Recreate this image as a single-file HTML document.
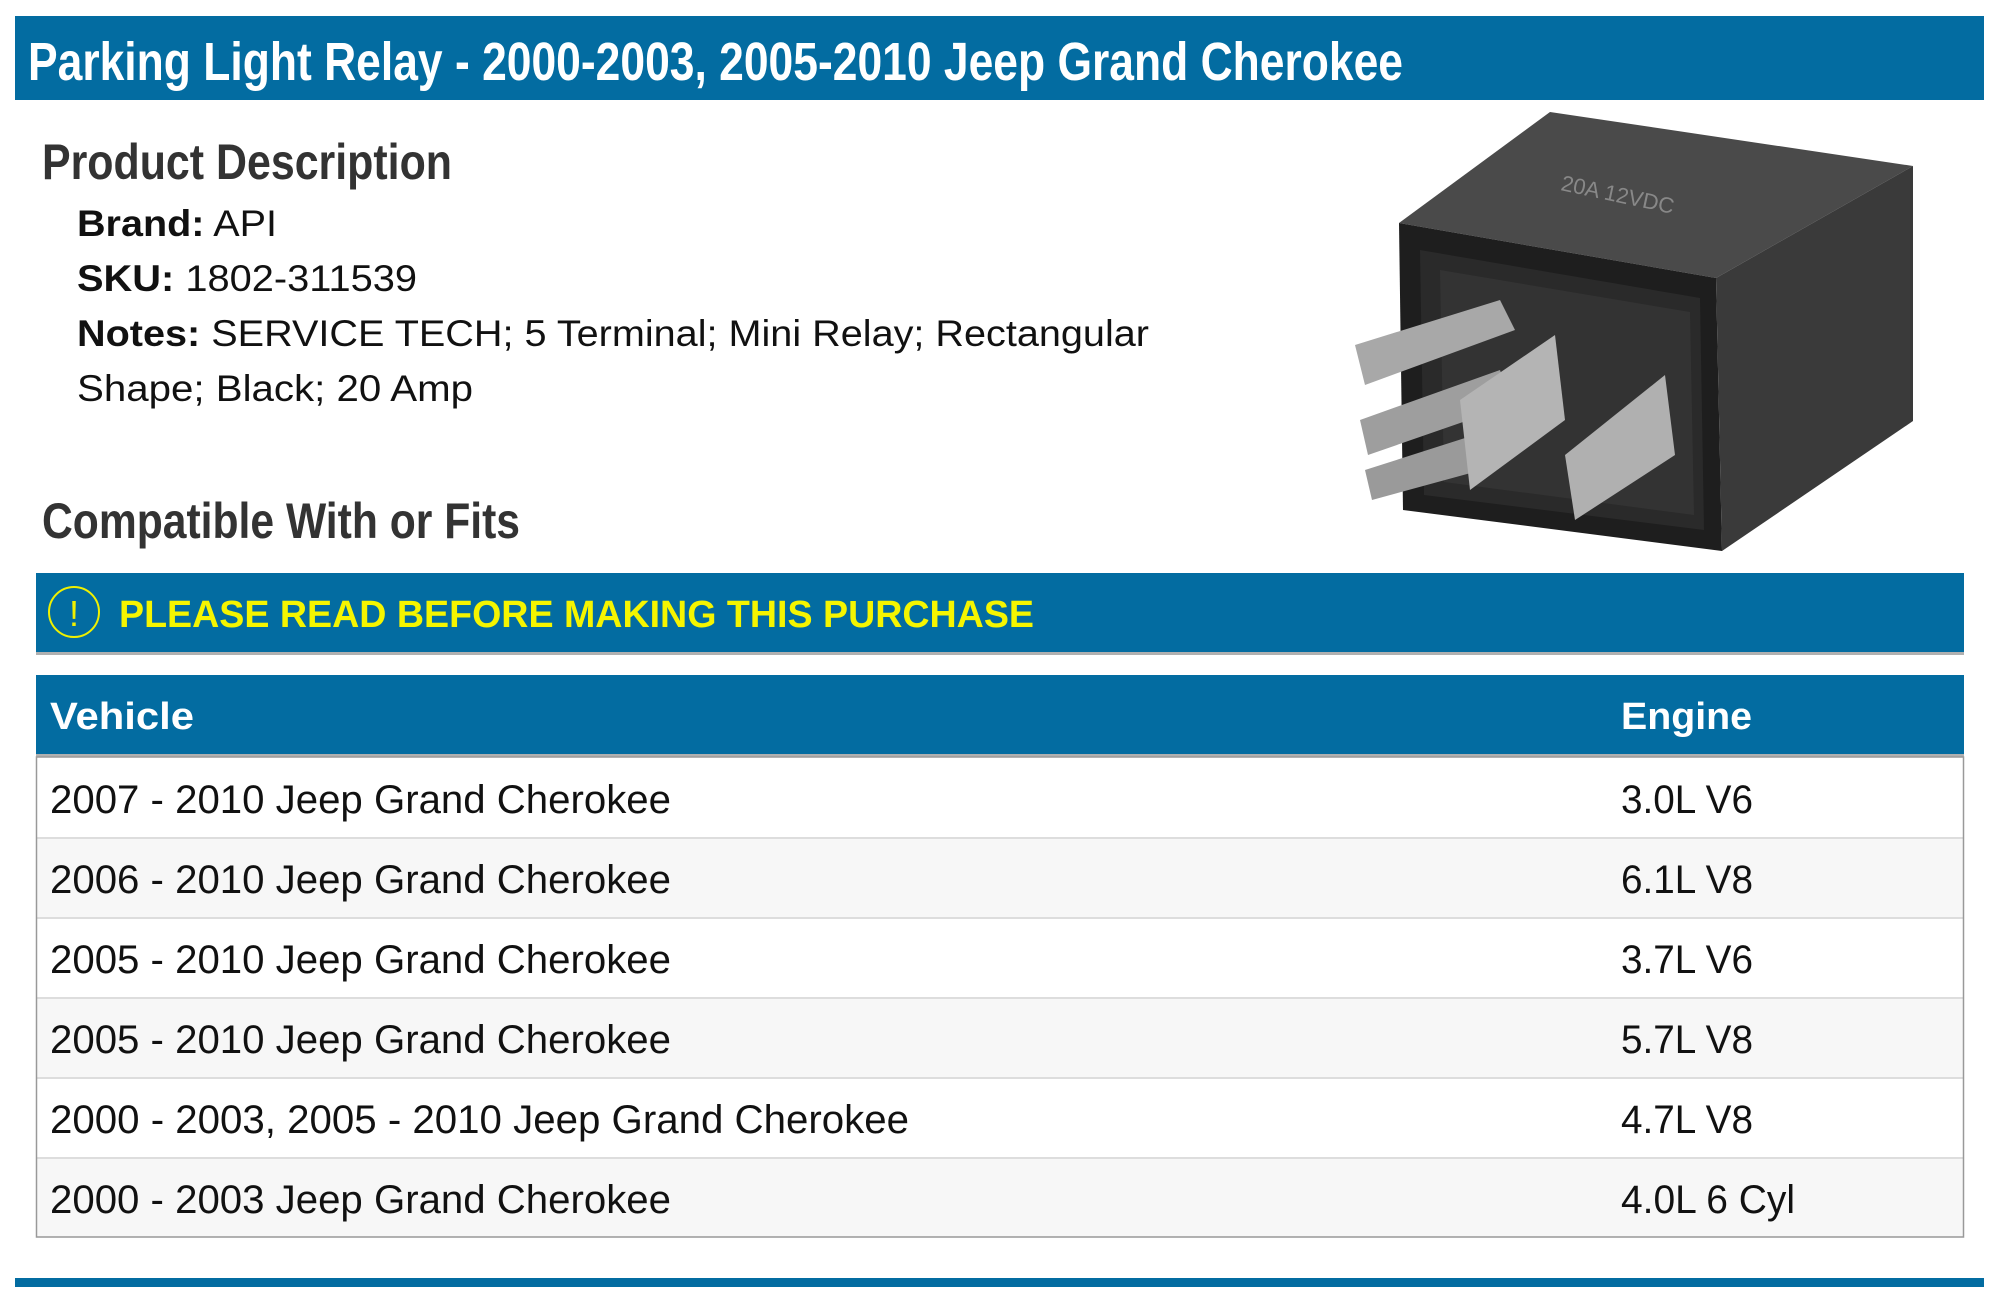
<!DOCTYPE html>
<html><head><meta charset="utf-8"><style>
html,body{margin:0;padding:0;background:#fff;width:2000px;height:1305px;overflow:hidden}
svg text{font-family:"Liberation Sans",sans-serif}
</style></head><body>
<svg width="2000" height="1305" viewBox="0 0 2000 1305" xmlns="http://www.w3.org/2000/svg">
<rect x="15" y="16" width="1969" height="84" fill="#036ca1"/>
<text x="28" y="80" font-size="54" font-weight="bold" fill="#fff" textLength="1375" lengthAdjust="spacingAndGlyphs">Parking Light Relay - 2000-2003, 2005-2010 Jeep Grand Cherokee</text>

<text x="42" y="179" font-size="50" font-weight="bold" fill="#333" textLength="410" lengthAdjust="spacingAndGlyphs">Product Description</text>
<g font-size="37" fill="#111">
<text x="77" y="236" textLength="200" lengthAdjust="spacingAndGlyphs"><tspan font-weight="bold">Brand:</tspan> API</text>
<text x="77" y="291" textLength="340" lengthAdjust="spacingAndGlyphs"><tspan font-weight="bold">SKU:</tspan> 1802-311539</text>
<text x="77" y="346" textLength="1072" lengthAdjust="spacingAndGlyphs"><tspan font-weight="bold">Notes:</tspan> SERVICE TECH; 5 Terminal; Mini Relay; Rectangular</text>
<text x="77" y="401" textLength="396" lengthAdjust="spacingAndGlyphs">Shape; Black; 20 Amp</text>
</g>
<text x="42" y="538" font-size="50" font-weight="bold" fill="#333" textLength="478" lengthAdjust="spacingAndGlyphs">Compatible With or Fits</text>

<!-- relay -->
<g>
<polygon points="1399,223 1550,112 1913,166 1716,278" fill="#4a4a4a"/>
<polygon points="1399,223 1716,278 1722,551 1403,510" fill="#1e1e1e"/>
<polygon points="1716,278 1913,166 1913,421 1722,551" fill="#3a3a3a"/>
<polygon points="1420,250 1700,298 1704,530 1424,495" fill="#2a2a2a"/>
<polygon points="1440,270 1690,312 1694,515 1444,482" fill="#333"/>
<polygon points="1355,345 1500,300 1515,330 1365,385" fill="#a8a8a8"/>
<polygon points="1360,420 1500,370 1512,405 1368,455" fill="#9e9e9e"/>
<polygon points="1365,470 1490,430 1500,465 1372,500" fill="#9a9a9a"/>
<polygon points="1460,400 1555,335 1565,420 1470,490" fill="#b4b4b4"/>
<polygon points="1565,455 1665,375 1675,455 1575,520" fill="#b0b0b0"/>
<text x="1560" y="190" font-size="22" fill="#888" transform="rotate(12 1560 190)">20A 12VDC</text>
</g>

<rect x="36" y="573" width="1928" height="79" fill="#036ca1"/>
<rect x="36" y="652" width="1928" height="3" fill="#b0b0b0"/>
<circle cx="74" cy="612" r="25" fill="none" stroke="#f0f000" stroke-width="2"/>
<text x="74" y="626" font-size="36" fill="#f0f000" text-anchor="middle">!</text>
<text x="119" y="627" font-size="38" font-weight="bold" fill="#f5f500" textLength="915" lengthAdjust="spacingAndGlyphs">PLEASE READ BEFORE MAKING THIS PURCHASE</text>

<rect x="36" y="675" width="1928" height="80" fill="#036ca1"/>
<rect x="36" y="754" width="1928" height="3" fill="#b0b0b0"/>
<text x="50" y="729" font-size="38" font-weight="bold" fill="#fff" textLength="144" lengthAdjust="spacingAndGlyphs">Vehicle</text>
<text x="1621" y="729" font-size="38" font-weight="bold" fill="#fff" textLength="131" lengthAdjust="spacingAndGlyphs">Engine</text>

<rect x="36" y="837" width="1928" height="80" fill="#f7f7f7"/>
<rect x="36" y="997" width="1928" height="80" fill="#f7f7f7"/>
<rect x="36" y="1157" width="1928" height="80" fill="#f7f7f7"/>
<g fill="#ddd">
<rect x="36" y="837" width="1928" height="2"/>
<rect x="36" y="917" width="1928" height="2"/>
<rect x="36" y="997" width="1928" height="2"/>
<rect x="36" y="1077" width="1928" height="2"/>
<rect x="36" y="1157" width="1928" height="2"/>
</g>
<rect x="36.5" y="757" width="1927" height="480" fill="none" stroke="#999" stroke-width="1.5"/>

<g font-size="40" fill="#111">
<text x="50" y="813" textLength="621" lengthAdjust="spacingAndGlyphs">2007 - 2010 Jeep Grand Cherokee</text>
<text x="50" y="893" textLength="621" lengthAdjust="spacingAndGlyphs">2006 - 2010 Jeep Grand Cherokee</text>
<text x="50" y="973" textLength="621" lengthAdjust="spacingAndGlyphs">2005 - 2010 Jeep Grand Cherokee</text>
<text x="50" y="1053" textLength="621" lengthAdjust="spacingAndGlyphs">2005 - 2010 Jeep Grand Cherokee</text>
<text x="50" y="1133" textLength="859" lengthAdjust="spacingAndGlyphs">2000 - 2003, 2005 - 2010 Jeep Grand Cherokee</text>
<text x="50" y="1213" textLength="621" lengthAdjust="spacingAndGlyphs">2000 - 2003 Jeep Grand Cherokee</text>
<text x="1621" y="813" textLength="132" lengthAdjust="spacingAndGlyphs">3.0L V6</text>
<text x="1621" y="893" textLength="132" lengthAdjust="spacingAndGlyphs">6.1L V8</text>
<text x="1621" y="973" textLength="132" lengthAdjust="spacingAndGlyphs">3.7L V6</text>
<text x="1621" y="1053" textLength="132" lengthAdjust="spacingAndGlyphs">5.7L V8</text>
<text x="1621" y="1133" textLength="132" lengthAdjust="spacingAndGlyphs">4.7L V8</text>
<text x="1621" y="1213" textLength="174" lengthAdjust="spacingAndGlyphs">4.0L 6 Cyl</text>
</g>

<rect x="15" y="1278" width="1969" height="9" fill="#036ca1"/>
</svg>
</body></html>
